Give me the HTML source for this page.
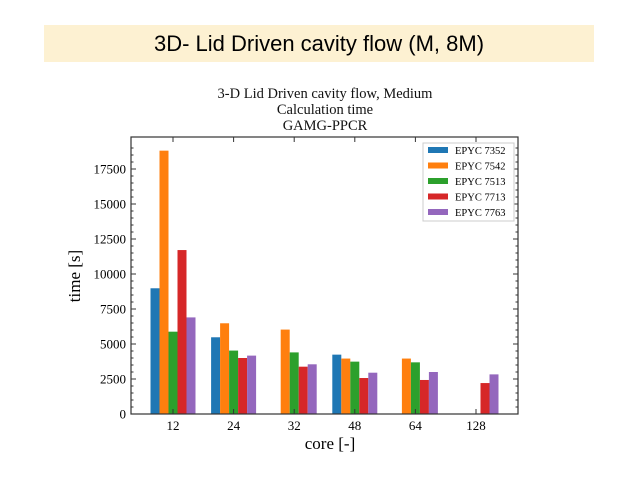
<!DOCTYPE html>
<html><head><meta charset="utf-8"><style>
body{margin:0;width:638px;height:478px;background:#fff;overflow:hidden;position:relative}
#banner{position:absolute;left:44px;top:25px;width:550px;height:37px;background:#fdf1d2;text-align:center;font:22px "Liberation Sans","Noto Sans CJK JP",sans-serif;line-height:37px;color:#000}
svg{position:absolute;left:0;top:0}
</style></head><body>
<div id="banner">3D- Lid Driven cavity flow (M, 8M)</div>
<svg width="638" height="478" font-family="Liberation Serif, serif">
<g id="titles" font-size="14.5" text-anchor="middle" fill="#111">
<text x="325" y="98">3-D Lid Driven cavity flow, Medium</text>
<text x="325" y="114">Calculation time</text>
<text x="325" y="130">GAMG-PPCR</text>
</g>
<g id="bars"></g>
<g id="axes"></g>
<g id="legend"></g>
<text x="330" y="449" font-size="17" text-anchor="middle">core [-]</text>
<text transform="translate(80,276) rotate(-90)" font-size="17" text-anchor="middle">time [s]</text>
</svg>
<script>
const categories=["12","24","32","48","64","128"];
const seriesNames=["EPYC 7352","EPYC 7542","EPYC 7513","EPYC 7713","EPYC 7763"];
const s7352=[8980,5480,null,4240,null,null];
const s7542=[18810,6480,6030,3960,3960,null];
const s7513=[5880,4530,4400,3740,3690,null];
const s7713=[11710,4000,3380,2570,2430,2210];
const s7763=[6900,4170,3550,2950,3000,2830];
const yTicks=[0,2500,5000,7500,10000,12500,15000,17500];
const series=[s7352,s7542,s7513,s7713,s7763];
const colors=["#1f77b4","#ff7f0e","#2ca02c","#d62728","#9467bd"];
const NS="http://www.w3.org/2000/svg";
const L=131,R=518,T=137,B=414;
const y=v=>B-v*0.014;
const x0=173,step=60.6,bw=9;
const xc=i=>x0+i*step;
function mk(t,a,p){const e=document.createElementNS(NS,t);for(const k in a)e.setAttribute(k,a[k]);p.appendChild(e);return e;}
const gb=document.getElementById('bars');
series.forEach((s,si)=>{s.forEach((v,i)=>{if(v==null)return;
const r=mk('rect',{x:xc(i)-2.5*bw+si*bw,y:y(v),width:bw,height:B-y(v),fill:colors[si]},gb);


});});
const ga=document.getElementById('axes');
const fr=mk('rect',{x:L,y:T,width:R-L,height:B-T,fill:'none',stroke:'#333','stroke-width':1.2},ga);


for(let v=0;v<=19000;v+=500){const yy=y(v);if(yy<T)break;const major=v%2500==0;
mk('line',{x1:L,x2:L+(major?5:2.5),y1:yy,y2:yy,stroke:'#333'},ga);
mk('line',{x1:R,x2:R-(major?5:2.5),y1:yy,y2:yy,stroke:'#333'},ga);}
yTicks.forEach(v=>{const t=mk('text',{x:L-5,y:y(v)+4.5,'font-size':13,'text-anchor':'end'},ga);t.textContent=v;

});
categories.forEach((c,i)=>{mk('line',{x1:xc(i),x2:xc(i),y1:B,y2:B-5,stroke:'#333'},ga);mk('line',{x1:xc(i),x2:xc(i),y1:T,y2:T+5,stroke:'#333'},ga);
const t=mk('text',{x:xc(i),y:B+16,'font-size':13,'text-anchor':'middle'},ga);t.textContent=c;

});
const gl=document.getElementById('legend');


mk('rect',{x:423,y:143,width:91,height:78,fill:'#fff',stroke:'#ccc'},gl);
seriesNames.forEach((n,si)=>{const yy=150+si*15.5;
const g=mk('g',{},gl);


mk('rect',{x:428,y:yy-3,width:20,height:6,fill:colors[si]},g);
const t=mk('text',{x:455,y:yy+4,'font-size':10.5},g);t.textContent=n;});
</script>
</body></html>
